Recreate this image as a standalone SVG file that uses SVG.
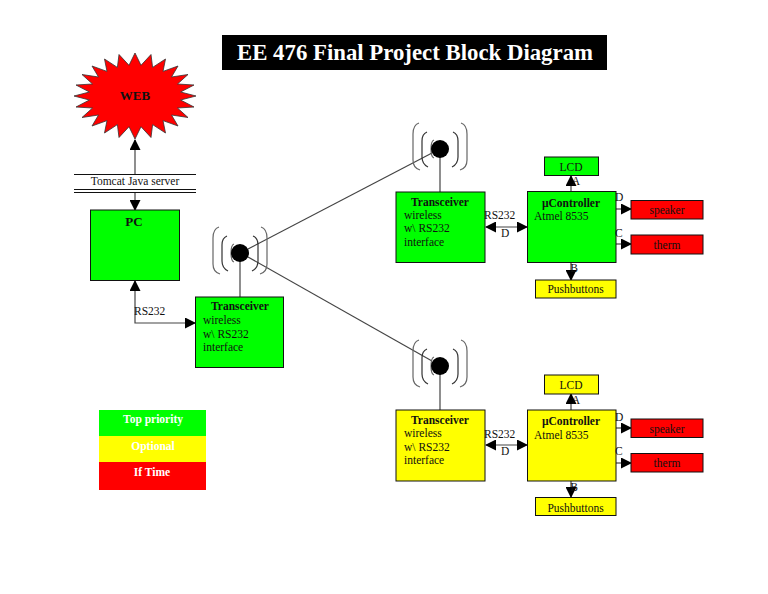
<svg xmlns="http://www.w3.org/2000/svg" width="768" height="594" viewBox="0 0 768 594">
<style>
text{font-family:"Liberation Serif","Times New Roman",serif;font-size:11.5px;fill:#111}
.b{font-weight:bold}
.m{text-anchor:middle}
.box{stroke:#111;stroke-width:1}
.g{fill:#00ff00}.y{fill:#ffff00}.r{fill:#ff0000}
.c{fill:none;stroke:#444;stroke-width:1.2}
.w{fill:#fff;font-weight:bold;text-anchor:middle}
.arc{fill:none;stroke:#666;stroke-width:1.2}
.arc2{fill:none;stroke:#333;stroke-width:1.2}
</style>
<defs>
<marker id="ah" markerUnits="userSpaceOnUse" markerWidth="11" markerHeight="11" refX="10" refY="5.500" orient="auto-start-reverse"><path d="M0,0L11,5.500L0,11Z" fill="#000"/></marker>
<g id="ant">
<path class="arc" d="M-21,-26Q-27,-24 -27,-15V11Q-27,19 -20,21"/>
<path class="arc" d="M21,-26Q27,-24 27,-15V11Q27,19 20,21"/>
<path class="arc2" d="M-13,-17Q-18,-15 -18,-8V8Q-18,15 -12,18"/>
<path class="arc2" d="M13,-17Q18,-15 18,-8V8Q18,15 12,18"/>
<path class="arc" d="M-6,-9Q-9,-8 -9,0Q-9,8 -6,9"/>
<circle r="9" fill="#000"/>
</g>
</defs>
<g id="connectors">
<path class="c" marker-end="url(#ah)" d="M135,174V140"/>
<path class="c" marker-end="url(#ah)" d="M135,193V210"/>
<path class="c" marker-start="url(#ah)" marker-end="url(#ah)" d="M135,281V323H195"/>
<path class="c" d="M240,253V297"/>
<path class="c" d="M248,249L432,153"/>
<path class="c" d="M248,257L432,361"/>
<path class="c" d="M440,149V192"/>
<path class="c" d="M440,366V410"/>
<path class="c" marker-start="url(#ah)" marker-end="url(#ah)" d="M486,227H527"/>
<path class="c" marker-end="url(#ah)" d="M571,191V176"/>
<path class="c" marker-end="url(#ah)" d="M571,263V280"/>
<path class="c" marker-end="url(#ah)" d="M616,209H631"/>
<path class="c" marker-end="url(#ah)" d="M616,244H631"/>
<path class="c" marker-start="url(#ah)" marker-end="url(#ah)" d="M486,445H527"/>
<path class="c" marker-end="url(#ah)" d="M571,410V394"/>
<path class="c" marker-end="url(#ah)" d="M571,481V497"/>
<path class="c" marker-end="url(#ah)" d="M616,428H631"/>
<path class="c" marker-end="url(#ah)" d="M616,463H631"/>
</g>
<g id="title"><rect x="222" y="35" width="385" height="35" fill="#000"/><text x="415" y="60" class="b m" style="font-size:22.800px;fill:#fff">EE 476 Final Project Block Diagram</text></g>
<g id="web"><polygon class="r" stroke="#333" stroke-width="0.8" transform="translate(135,96)" points="61,0 45.6,4 59,11 42.5,12 53,21.5 36.5,19 43,30 28,24.6 30.5,37 17.6,28.6 16,41.5 6,30.7 0,43 -6,30.7 -16,41.5 -17.6,28.6 -30.5,37 -28,24.6 -43,30 -36.5,19 -53,21.5 -42.5,12 -59,11 -45.6,4 -61,0 -45.6,-4 -59,-11 -42.5,-12 -53,-21.5 -36.5,-19 -43,-30 -28,-24.6 -30.5,-37 -17.6,-28.6 -16,-41.5 -6,-30.7 0,-43 6,-30.7 16,-41.5 17.6,-28.6 30.5,-37 28,-24.6 43,-30 36.5,-19 53,-21.5 42.5,-12 59,-11 45.6,-4"/><text x="135" y="100" class="b m" style="font-size:13px">WEB</text></g>
<g id="tomcat"><path d="M74,174.500H196M74,189.500H196M74,192.500H196" stroke="#111" fill="none"/><text x="135" y="185" class="m">Tomcat Java server</text></g>
<g id="pc"><rect class="box g" x="90.500" y="210" width="89" height="70.500"/><text x="134" y="226" class="b m" style="font-size:13px">PC</text></g>
<g id="antenna1"><use href="#ant" x="240" y="253"/></g>
<g id="antenna2"><use href="#ant" x="440" y="149"/></g>
<g id="antenna3"><use href="#ant" x="440" y="366"/></g>
<g id="transceiver1"><rect class="box g" x="195.500" y="297" width="88" height="70.500"/><text x="240" y="310" class="b m">Transceiver</text><text x="203" y="324">wireless</text><text x="203" y="338">w\ RS232</text><text x="203" y="351">interface</text></g>
<g id="transceiver2"><rect class="box g" x="396" y="192" width="89" height="70.500"/><text x="440" y="206" class="b m">Transceiver</text><text x="404" y="219">wireless</text><text x="404" y="232">w\ RS232</text><text x="404" y="246">interface</text></g>
<g id="transceiver3"><rect class="box y" x="396" y="410" width="89" height="71"/><text x="440" y="424" class="b m">Transceiver</text><text x="404" y="437">wireless</text><text x="404" y="451">w\ RS232</text><text x="404" y="464">interface</text></g>
<g id="controller1"><rect class="box g" x="527.500" y="191.500" width="88.500" height="71"/><text x="571" y="207" class="b m">µController</text><text x="534" y="220">Atmel 8535</text></g>
<g id="controller2"><rect class="box y" x="527.500" y="410" width="88.500" height="71"/><text x="571" y="425" class="b m">µController</text><text x="534" y="439">Atmel 8535</text></g>
<g id="lcd1"><rect class="box g" x="544.500" y="157" width="54" height="18.500"/><text x="571" y="171" class="m">LCD</text></g>
<g id="lcd2"><rect class="box y" x="544.500" y="375" width="54" height="19"/><text x="571" y="389" class="m">LCD</text></g>
<g id="push1"><rect class="box y" x="535.500" y="280" width="80.500" height="18"/><text x="575.500" y="293" class="m">Pushbuttons</text></g>
<g id="push2"><rect class="box y" x="535.500" y="497.500" width="80.500" height="18"/><text x="575.500" y="512" class="m">Pushbuttons</text></g>
<g id="speaker1"><rect class="box r" x="631" y="200.500" width="72" height="18.500"/><text x="667" y="214" class="m">speaker</text></g>
<g id="therm1"><rect class="box r" x="631" y="235" width="72" height="19"/><text x="667" y="249" class="m">therm</text></g>
<g id="speaker2"><rect class="box r" x="631" y="419" width="72" height="18.500"/><text x="667" y="433" class="m">speaker</text></g>
<g id="therm2"><rect class="box r" x="631" y="453.500" width="72" height="18.500"/><text x="667" y="467" class="m">therm</text></g>
<g id="labels">
<text x="134" y="315">RS232</text>
<text x="484" y="219">RS232</text><text x="501" y="237">D</text>
<text x="484" y="438">RS232</text><text x="501" y="455">D</text>
<text x="576" y="185" class="m">A</text><text x="574" y="272" class="m">B</text><text x="615" y="201">D</text><text x="615" y="237">C</text>
<text x="576" y="404" class="m">A</text><text x="574" y="491" class="m">B</text><text x="615" y="421">D</text><text x="615" y="455">C</text>
</g>
<g id="legend">
<rect class="g" x="99" y="410" width="107" height="26"/><text x="153" y="423" class="w">Top priority</text>
<rect class="y" x="99" y="436" width="107" height="26"/><text x="153" y="450" class="w">Optional</text>
<rect class="r" x="99" y="462" width="107" height="28"/><text x="152" y="476" class="w">If Time</text>
</g>
</svg>
